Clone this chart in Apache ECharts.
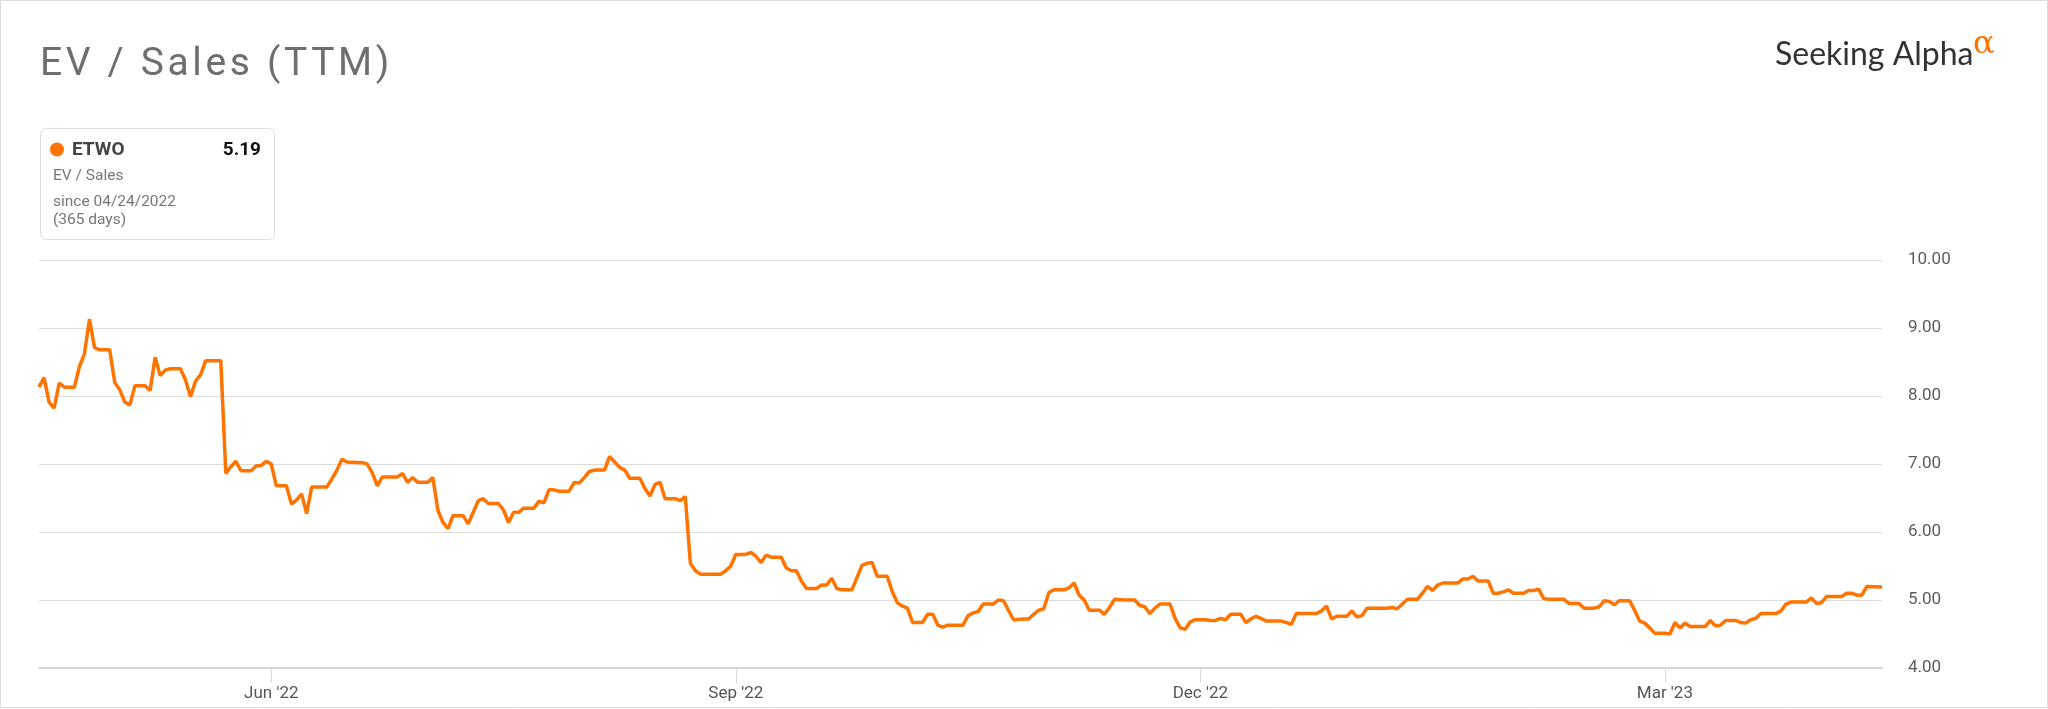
<!DOCTYPE html>
<html>
<head>
<meta charset="utf-8">
<script src="https://cdn.jsdelivr.net/npm/echarts@6/dist/echarts.min.js"></script>
<style>
  html, body { margin: 0; padding: 0; background: #fff; }
  #wrap { position: relative; width: 2048px; height: 709px; }
  #chart { width: 2048px; height: 709px; }
  #title {
    position: absolute; left: 40px; top: 43px; margin: 0;
    font-family: Roboto, sans-serif; font-weight: normal; font-size: 39px;
    line-height: 39px; letter-spacing: 3.65px; color: #6e6e6e; white-space: nowrap;
    z-index: 10;
  }
</style>
</head>
<body>
<div id="wrap">
  <div id="chart"></div>
  <div id="title"></div>
</div>
<script>
// ---- Data ----
const chartTitle = 'EV / Sales (TTM)';
const ticker = 'ETWO';
const metricName = 'EV / Sales';
const sinceText = 'since 04/24/2022';
const spanText = '(365 days)';

// day index since 04/24/2022 (0..365)
const days = [
  0, 1, 2, 3, 4, 5, 7, 8, 9, 10,
  11, 12, 14, 15, 16, 17, 18, 19, 21, 22,
  23, 24, 25, 26, 28, 29, 30, 31, 32, 33,
  36, 37, 38, 39, 40, 42, 43, 44, 45, 46,
  47, 49, 50, 51, 52, 53, 54, 57, 58, 59,
  60, 61, 64, 65, 66, 67, 68, 71, 72, 73,
  74, 75, 77, 78, 79, 80, 81, 82, 84, 85,
  86, 87, 88, 89, 91, 92, 93, 94, 95, 96,
  98, 99, 100, 101, 102, 103, 105, 106, 107, 108,
  109, 110, 112, 113, 114, 115, 116, 117, 119, 120,
  121, 122, 123, 124, 126, 127, 128, 129, 130, 131,
  135, 136, 137, 138, 140, 141, 142, 143, 144, 145,
  147, 148, 149, 150, 151, 152, 154, 155, 156, 157,
  158, 159, 161, 162, 163, 164, 165, 166, 168, 169,
  170, 171, 172, 173, 175, 176, 177, 178, 179, 180,
  183, 184, 185, 186, 187, 189, 190, 191, 192, 193,
  195, 196, 197, 198, 199, 200, 201, 203, 204, 205,
  206, 207, 208, 210, 211, 212, 213, 215, 217, 218,
  219, 220, 221, 222, 224, 225, 226, 227, 228, 229,
  231, 232, 233, 234, 235, 236, 238, 239, 240, 241,
  242, 243, 246, 247, 248, 249, 250, 253, 254, 255,
  256, 257, 259, 260, 261, 262, 263, 267, 268, 269,
  270, 271, 273, 274, 275, 276, 277, 278, 281, 282,
  283, 284, 285, 287, 288, 289, 290, 291, 292, 294,
  295, 296, 297, 298, 299, 302, 303, 305, 306, 308,
  309, 310, 311, 312, 313, 315, 316, 317, 318, 319,
  320, 322, 323, 324, 325, 326, 327, 330, 331, 332,
  333, 334, 336, 337, 338, 339, 340, 341, 344, 345,
  346, 347, 350, 351, 352, 353, 354, 357, 358, 359,
  360, 361, 362, 365
];

const evSales = [
  8.13, 8.27, 7.91, 7.82, 8.19, 8.13, 8.13, 8.43, 8.62, 9.13,
  8.71, 8.68, 8.68, 8.20, 8.09, 7.91, 7.87, 8.15, 8.15, 8.08,
  8.57, 8.30, 8.38, 8.40, 8.40, 8.24, 7.99, 8.22, 8.31, 8.52,
  8.52, 6.86, 6.96, 7.04, 6.90, 6.90, 6.97, 6.98, 7.04, 7.00,
  6.68, 6.68, 6.41, 6.47, 6.56, 6.27, 6.66, 6.66, 6.78, 6.91,
  7.07, 7.03, 7.02, 7.00, 6.87, 6.68, 6.81, 6.81, 6.86, 6.73,
  6.80, 6.73, 6.73, 6.80, 6.32, 6.14, 6.05, 6.24, 6.24, 6.12,
  6.29, 6.46, 6.49, 6.42, 6.42, 6.32, 6.14, 6.29, 6.29, 6.35,
  6.35, 6.45, 6.43, 6.62, 6.62, 6.60, 6.60, 6.73, 6.72, 6.80,
  6.89, 6.91, 6.91, 7.11, 7.03, 6.95, 6.91, 6.79, 6.79, 6.64,
  6.53, 6.70, 6.73, 6.49, 6.49, 6.46, 6.52, 5.54, 5.43, 5.38,
  5.38, 5.43, 5.50, 5.67, 5.67, 5.70, 5.64, 5.55, 5.66, 5.63,
  5.63, 5.47, 5.43, 5.43, 5.28, 5.17, 5.17, 5.22, 5.22, 5.32,
  5.17, 5.15, 5.15, 5.33, 5.51, 5.54, 5.55, 5.35, 5.35, 5.12,
  4.96, 4.91, 4.88, 4.67, 4.67, 4.79, 4.79, 4.63, 4.60, 4.63,
  4.63, 4.77, 4.81, 4.83, 4.94, 4.94, 5.00, 4.99, 4.85, 4.71,
  4.72, 4.72, 4.79, 4.85, 4.87, 5.11, 5.15, 5.15, 5.18, 5.25,
  5.07, 5.00, 4.85, 4.85, 4.79, 4.89, 5.01, 5.00, 5.00, 4.92,
  4.90, 4.80, 4.88, 4.94, 4.94, 4.73, 4.59, 4.57, 4.68, 4.71,
  4.71, 4.70, 4.70, 4.73, 4.71, 4.79, 4.79, 4.67, 4.72, 4.76,
  4.73, 4.69, 4.69, 4.67, 4.64, 4.80, 4.80, 4.80, 4.84, 4.91,
  4.72, 4.76, 4.76, 4.84, 4.75, 4.77, 4.88, 4.88, 4.89, 4.87,
  4.94, 5.01, 5.01, 5.10, 5.20, 5.14, 5.22, 5.25, 5.25, 5.31,
  5.31, 5.35, 5.28, 5.28, 5.10, 5.10, 5.12, 5.15, 5.10, 5.10,
  5.14, 5.14, 5.16, 5.02, 5.01, 5.01, 4.95, 4.95, 4.88, 4.88,
  4.90, 4.99, 4.98, 4.93, 4.99, 4.99, 4.85, 4.69, 4.66, 4.59,
  4.51, 4.51, 4.50, 4.67, 4.59, 4.66, 4.61, 4.61, 4.70, 4.62,
  4.63, 4.70, 4.70, 4.67, 4.66, 4.71, 4.73, 4.80, 4.80, 4.84,
  4.94, 4.97, 4.97, 5.03, 4.95, 4.96, 5.05, 5.05, 5.10, 5.10,
  5.07, 5.07, 5.20, 5.19
];

const xTickDays = [46, 138, 230, 322];
const xTickLabels = ["Jun '22", "Sep '22", "Dec '22", "Mar '23"];
const yTicks = [4, 5, 6, 7, 8, 9, 10];

// ---- Chart ----
const ORANGE = '#ff7400';
document.getElementById('title').textContent = chartTitle;
const seriesData = days.map((d, i) => [d, evSales[i]]);
const lastValue = evSales[evSales.length - 1].toFixed(2);

const chart = echarts.init(document.getElementById('chart'), null, { renderer: 'canvas' });
chart.setOption({
  animation: false,
  backgroundColor: '#ffffff',
  grid: { left: 39, right: 166, top: 260, bottom: 41, containLabel: false },
  xAxis: {
    type: 'value',
    min: 0,
    max: 365,
    axisLine: { show: true, lineStyle: { color: '#d6d6d6', width: 2 } },
    axisTick: { show: true, customValues: xTickDays, length: 15, lineStyle: { color: '#d9d9d9', width: 1 } },
    axisLabel: {
      customValues: xTickDays,
      margin: 17,
      color: '#555',
      fontSize: 17,
      fontFamily: 'Roboto',
      formatter: v => xTickLabels[xTickDays.indexOf(Math.round(v))] || ''
    },
    splitLine: { show: false }
  },
  yAxis: {
    type: 'value',
    position: 'right',
    min: yTicks[0],
    max: yTicks[yTicks.length - 1],
    interval: 1,
    axisLine: { show: false },
    axisTick: { show: false },
    axisLabel: {
      margin: 26,
      color: '#5c5c5c',
      fontSize: 17,
      fontFamily: 'Roboto',
      formatter: v => v.toFixed(2)
    },
    splitLine: { show: true, lineStyle: { color: '#dcdcdc', width: 1 } }
  },
  series: [{
    type: 'line',
    data: seriesData,
    showSymbol: false,
    symbol: 'none',
    lineStyle: { color: ORANGE, width: 3.5 },
    itemStyle: { color: ORANGE },
    z: 5
  }],
  graphic: [
    { type: 'rect', silent: true, z: 100,
      shape: { x: 0.5, y: 0.5, width: 2047, height: 707 },
      style: { fill: 'none', stroke: '#dcdcdc', lineWidth: 1 } },
    { type: 'text', z: 100,
      style: { x: 1775, y: 55, text: 'Seeking Alpha', fill: '#333333',
        font: '32px Lato', textVerticalAlign: 'middle' } },
    { type: 'text', z: 100,
      style: { x: 1973, y: 45, text: 'α', fill: ORANGE,
        font: '32px "DejaVu Serif"', textVerticalAlign: 'middle' } },
    { type: 'rect', z: 100,
      shape: { x: 40.5, y: 128.5, width: 234, height: 111, r: 6 },
      style: { fill: '#fff', stroke: '#dddddd', lineWidth: 1 } },
    { type: 'circle', z: 101,
      shape: { cx: 57, cy: 149.5, r: 7 },
      style: { fill: ORANGE } },
    { type: 'text', z: 101,
      style: { x: 72, y: 150, text: ticker, fill: '#444',
        font: 'bold 19px Roboto', textVerticalAlign: 'middle' } },
    { type: 'text', z: 101,
      style: { x: 261, y: 150, text: lastValue, fill: '#111',
        font: 'bold 19px Roboto', textAlign: 'right', textVerticalAlign: 'middle' } },
    { type: 'text', z: 101,
      style: { x: 53, y: 176, text: metricName, fill: '#777',
        font: '15.5px Roboto', textVerticalAlign: 'middle' } },
    { type: 'text', z: 101,
      style: { x: 53, y: 202, text: sinceText, fill: '#777',
        font: '15.5px Roboto', textVerticalAlign: 'middle' } },
    { type: 'text', z: 101,
      style: { x: 53, y: 220, text: spanText, fill: '#777',
        font: '15.5px Roboto', textVerticalAlign: 'middle' } }
  ]
});
</script>
</body>
</html>
